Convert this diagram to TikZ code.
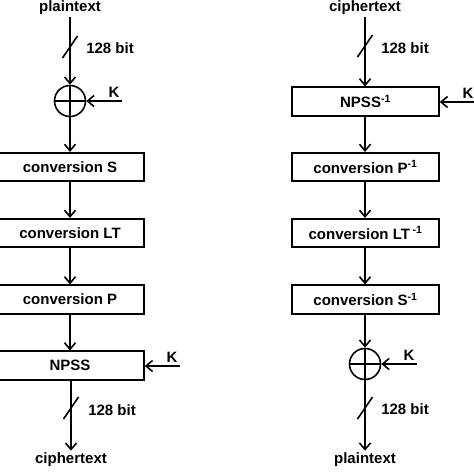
\documentclass[tikz,border=0pt]{standalone}
\usepackage{fontspec}
\setmainfont{Liberation Sans}
\usetikzlibrary{arrows.meta}
\begin{document}
\begin{tikzpicture}[x=1pt,y=-1pt,
  line width=1.6pt,
  arr/.style={-{Straight Barb[length=6.5pt,width=11pt]}},
  blk/.style={draw, fill=white, minimum width=148pt, minimum height=28.5pt, inner sep=0pt, font=\bfseries\fontsize{15}{18}\selectfont},
  lbl/.style={font=\bfseries\fontsize{15}{18}\selectfont, inner sep=1.5pt},
  xo/.style={draw, circle, minimum size=31pt, inner sep=0pt}]
\useasboundingbox[fill=white] (0,0) rectangle (474,474);
% ---------- left column (encryption)
\node[lbl] (pt1) at (70,8) {plaintext};
\node[xo] (x1) at (70,101) {};
\draw (x1.north) -- (x1.south) (x1.west) -- (x1.east);
\node[blk] (s) at (70,167) {conversion S};
\node[blk] (lt) at (70,233) {conversion LT};
\node[blk] (p) at (70,299.5) {conversion P};
\node[blk] (n) at (70,365.5) {NPSS};
\node[lbl] (ct1) at (71,460) {ciphertext};
\coordinate (k1) at (122,101);
\node[lbl, anchor=south] (kl1) at (114,99.5) {K};
\coordinate (k2) at (180,366);
\node[lbl, anchor=south] (kl2) at (172,364.5) {K};
\draw[arr] (pt1.south) -- (x1.north);
\draw[arr] (k1) -- (x1.east);
\draw[arr] (x1.south) -- (s.north);
\draw[arr] (s) -- (lt);
\draw[arr] (lt) -- (p);
\draw[arr] (p) -- (n);
\draw[arr] (k2) -- (n.east |- k2);
\draw[arr] (n.south -| ct1) -- (ct1.north);
\draw (62.5,58) -- (77.5,36);
\draw (63.5,419) -- (78.5,397);
\node[lbl, anchor=west] (b1) at (84,48) {128 bit};
\node[lbl, anchor=west] (b2) at (86,410) {128 bit};
% ---------- right column (decryption)
\node[lbl] (ct2) at (365,8) {ciphertext};
\node[blk, minimum width=147pt] (n2) at (365.5,101.5) {NPSS\textsuperscript{-1}};
\node[blk, minimum width=147pt] (p2) at (365.5,167) {conversion P\textsuperscript{-1}};
\node[blk, minimum width=147pt] (lt2) at (365.5,233) {conversion LT\,\textsuperscript{-1}};
\node[blk, minimum width=147pt] (s2) at (365.5,299.5) {conversion S\textsuperscript{-1}};
\node[xo] (x2) at (365,364) {};
\draw (x2.north) -- (x2.south) (x2.west) -- (x2.east);
\node[lbl] (pt2) at (365,460) {plaintext};
\coordinate (k3) at (480,102);
\node[lbl, anchor=south] (kl3) at (468,100.5) {K};
\coordinate (k4) at (417,364);
\node[lbl, anchor=south] (kl4) at (409,362.5) {K};
\draw[arr] (ct2.south) -- (ct2.south |- n2.north);
\draw[arr] (k3) -- (n2.east |- k3);
\draw[arr] (n2.south -| ct2) -- (ct2 |- p2.north);
\draw[arr] (p2.south -| ct2) -- (ct2 |- lt2.north);
\draw[arr] (lt2.south -| ct2) -- (ct2 |- s2.north);
\draw[arr] (s2.south -| x2) -- (x2.north);
\draw[arr] (k4) -- (x2.east);
\draw[arr] (x2.south) -- (pt2.north);
\draw (357.5,57) -- (372.5,35);
\draw (357.5,419) -- (372.5,397);
\node[lbl, anchor=west] (b3) at (379,48) {128 bit};
\node[lbl, anchor=west] (b4) at (379,409) {128 bit};
\end{tikzpicture}
\end{document}
